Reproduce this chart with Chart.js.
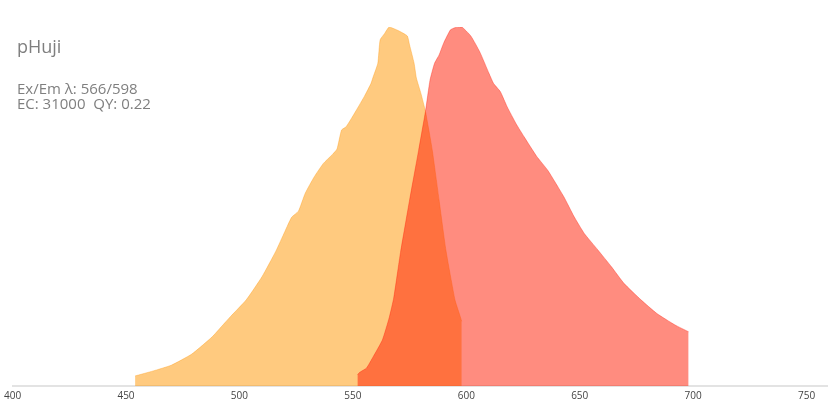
<!DOCTYPE html>
<html>
<head>
<meta charset="utf-8">
<script src="https://cdn.jsdelivr.net/npm/chart.js@4"></script>
<style>
  html, body { margin: 0; padding: 0; background: #fff; }
  #wrap { width: 840px; height: 420px; position: relative; }
</style>
</head>
<body>
<div id="wrap"><canvas id="spectra" width="840" height="420"></canvas></div>
<script>
var exWavelengths = [454, 462, 470, 479, 488, 492, 496, 503, 510, 516, 520, 523, 526, 529, 533, 537, 541, 543, 545, 547, 550, 555, 558, 559, 561, 562, 564, 566, 570, 574, 575, 577, 578, 580, 582, 585, 588, 591, 595, 597, 598]
var exValues = [0.028, 0.042, 0.058, 0.089, 0.137, 0.165, 0.193, 0.24, 0.305, 0.375, 0.43, 0.47, 0.487, 0.537, 0.583, 0.62, 0.645, 0.66, 0.713, 0.722, 0.752, 0.806, 0.843, 0.862, 0.899, 0.964, 0.982, 1.0, 0.99, 0.975, 0.95, 0.899, 0.858, 0.815, 0.765, 0.657, 0.518, 0.379, 0.24, 0.2, 0.18]

var emWavelengths = [552, 553, 556, 559, 563, 566, 568, 571, 575, 579, 582, 584, 586, 588, 590, 593, 595, 598, 602, 606, 610, 612, 615, 618, 622, 625.5, 631, 636, 643, 647.5, 652, 658, 664, 669.5, 677, 684, 692, 698]
var emValues = [0.031, 0.038, 0.05, 0.082, 0.128, 0.19, 0.245, 0.372, 0.518, 0.657, 0.765, 0.852, 0.899, 0.922, 0.955, 0.992, 0.998, 1.0, 0.975, 0.93, 0.871, 0.843, 0.82, 0.778, 0.73, 0.694, 0.64, 0.6, 0.527, 0.472, 0.425, 0.379, 0.332, 0.286, 0.24, 0.202, 0.17, 0.151]

var xTicks = [400, 450, 500, 550, 600, 650, 700, 750]

var infoLines = ["Ex/Em \u03bb: 566/598", "EC: 31000  QY: 0.22"]
var proteinName = "pHuji"

function toPoints(xs, ys) {
  return xs.map(function(x, i) { return { x: x, y: ys[i] } })
}

// name + numbers in the top-left corner
var infoText = {
  id: "infoText",
  afterDraw: function(chart) {
    var ctx = chart.ctx
    ctx.save()
    ctx.fillStyle = "#7f7f7f"
    ctx.textBaseline = "alphabetic"
    ctx.font = "18px 'Open Sans'"
    ctx.fillText(proteinName, 17, 53)
    ctx.font = "15px 'Open Sans'"
    ctx.fillText(infoLines[0], 17, 94)
    ctx.fillText(infoLines[1], 17, 108.5)
    ctx.restore()
  }
}

var ctx = document.getElementById("spectra").getContext("2d")

var chart = new Chart(ctx, {
  type: "line",
  data: {
    datasets: [{
      label: "em",
      data: toPoints(emWavelengths, emValues),
      backgroundColor: "rgba(255, 25, 0, 0.5)",
      borderColor: "rgba(255, 25, 0, 0.35)",
      borderWidth: 1,
      pointRadius: 0,
      fill: "origin",
      tension: 0.15,
      order: 0
    }, {
      label: "ex",
      data: toPoints(exWavelengths, exValues),
      backgroundColor: "rgba(255, 149, 0, 0.5)",
      borderColor: "rgba(255, 149, 0, 0.35)",
      borderWidth: 1,
      pointRadius: 0,
      fill: "origin",
      tension: 0.15,
      order: 1
    }]
  },
  options: {
    responsive: false,
    animation: false,
    layout: { padding: { left: 12, right: 13, top: 27, bottom: 14 } },
    plugins: {
      legend: { display: false },
      tooltip: { enabled: false }
    },
    scales: {
      x: {
        type: "linear",
        min: 400,
        max: 759,
        grid: { display: false, drawTicks: false },
        border: { display: true, color: "#e3e3e3", width: 2 },
        afterBuildTicks: function(axis) {
          axis.ticks = xTicks.map(function(v) { return { value: v } })
        },
        ticks: {
          color: "#444",
          padding: 4,
          maxRotation: 0,
          autoSkip: false,
          font: { family: "'Open Sans'", size: 10 }
        }
      },
      y: {
        display: false,
        min: 0,
        max: 1
      }
    }
  },
  plugins: [infoText]
})
</script>
</body>
</html>
